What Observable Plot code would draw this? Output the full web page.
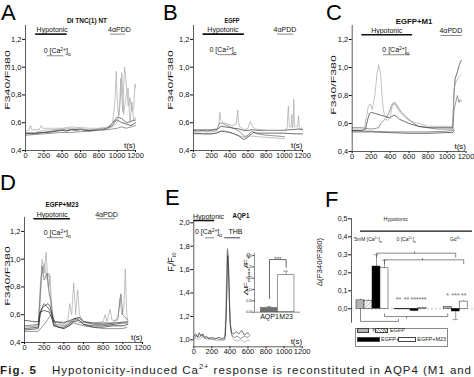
<!DOCTYPE html>
<html><head><meta charset="utf-8">
<script src="https://cdn.jsdelivr.net/npm/d3@7"></script>
<script src="https://cdn.jsdelivr.net/npm/@observablehq/plot@0.6"></script>
<style>
body{margin:0;background:#fff;}
#fig{position:relative;width:474px;height:377px;overflow:hidden;background:#fff;font-family:"Liberation Sans",Arial,sans-serif;color:#111;}
.pan{position:absolute;}
.pan svg{display:block;}
.letter{position:absolute;font-size:22px;line-height:1;color:#000;}
.cap{position:absolute;top:364.5px;font-size:11.5px;line-height:1;white-space:nowrap;color:#222;}
sub,sup{line-height:0;}
</style></head><body><div id="fig">
<div class="letter" style="left:1px;top:2px">A</div>
<div class="letter" style="left:163px;top:2px">B</div>
<div class="letter" style="left:326px;top:2px">C</div>
<div class="letter" style="left:0px;top:172px">D</div>
<div class="letter" style="left:165px;top:187px">E</div>
<div class="letter" style="left:325px;top:189px">F</div>
<div class="cap" id="capA" style="left:0;font-weight:bold">Fig. 5</div>
<div class="cap" id="capB" style="left:52px">Hypotonicity-induced Ca<sup style="font-size:7.5px">2+</sup> response is reconstituted in AQP4 (M1 and</div>
</div>
<script>
// ================= DATA =================
const xTicks=[0,200,400,600,800,1000,1200];
const ratioTicks=[0.4,0.6,0.8,1.0,1.2];
const ftTicks=[1.0,1.2,1.4,1.6,1.8,2.0];
const barTicks=[0,0.1,0.2,0.3,0.4,0.5];
const insetTicks=[0,0.05,0.10,0.15,0.20,0.25];

// Panel A: DI TNC(1) NT
const a1=[[0,.53],[50,.52],[100,.525],[150,.53],[200,.53],[250,.535],[300,.54],[350,.545],[400,.55],[450,.545],[500,.55],[550,.55],[600,.555],[650,.55],[700,.545],[750,.55],[800,.555],[850,.555],[900,.565],[950,.58],[975,.61],[1000,.62],[1050,.6],[1100,.59],[1150,.58],[1200,.6]];
const a2=[[0,.52],[50,.525],[100,.52],[150,.525],[200,.53],[250,.53],[300,.535],[350,.54],[400,.545],[450,.54],[500,.55],[550,.545],[600,.55],[650,.545],[700,.54],[750,.545],[800,.55],[850,.55],[900,.56],[950,.6],[1000,.64],[1050,.63],[1100,.6],[1150,.61],[1200,.62]];
const a3=[[0,.54],[40,.55],[55,.58],[70,.55],[150,.55],[170,.58],[190,.56],[300,.56],[400,.56],[500,.57],[600,.565],[700,.56],[800,.56],[900,.57],[950,.6],[975,.75],[990,.97],[1005,.7],[1020,.65],[1040,.92],[1060,.68],[1080,1.0],[1100,.88],[1120,.72],[1140,.78],[1160,.68],[1180,.7],[1195,.88],[1200,.85]];
const a4=[[0,.53],[100,.53],[200,.545],[300,.55],[400,.555],[500,.56],[600,.555],[700,.55],[800,.55],[900,.56],[950,.57],[1000,.6],[1030,.72],[1050,.96],[1070,.66],[1100,.8],[1120,.85],[1140,.6],[1160,.75],[1180,.62],[1200,.64]];
const a5=[[0,.51],[100,.515],[200,.52],[300,.525],[400,.53],[500,.53],[600,.535],[700,.54],[800,.545],[900,.55],[1000,.56],[1050,.57],[1100,.56],[1150,.57],[1200,.58]];
const stepsA=[{label:"Hypotonic",t0:110,t1:455,at:291},{label:"0 [Ca^{2+}]_{o}",t0:236,t1:418,at:345},{label:"4αPDD",t0:927,t1:1091,at:1025}];

// Panel B: EGFP
const b1=[[0,.545],[50,.54],[100,.545],[150,.54],[200,.545],[250,.55],[280,.56],[300,.575],[350,.57],[400,.565],[450,.56],[500,.555],[550,.545],[600,.545],[650,.55],[700,.545],[800,.545],[900,.545],[1000,.545],[1050,.55],[1100,.55],[1150,.555],[1200,.55]];
const b2=[[0,.525],[100,.52],[200,.52],[250,.525],[300,.54],[350,.535],[400,.53],[450,.52],[500,.505],[550,.48],[580,.485],[620,.51],[660,.53],[700,.525],[800,.525],[900,.525],[1000,.525],[1100,.52],[1200,.52]];
const b3=[[0,.535],[100,.535],[200,.535],[260,.54],[280,.6],[290,.675],[300,.62],[330,.6],[380,.59],[430,.58],[470,.59],[480,.65],[487,.69],[495,.6],[510,.57],[560,.55],[600,.56],[625,.61],[640,.58],[680,.555],[800,.545],[900,.545],[1000,.545],[1030,.56],[1044,.72],[1055,.57],[1075,.57],[1082,.66],[1090,.56],[1098,.6],[1104,.77],[1112,.57],[1145,.57],[1157,.65],[1165,.56],[1200,.56]];
const b4=[[0,.55],[100,.55],[200,.55],[260,.555],[290,.6],[320,.595],[370,.58],[420,.565],[470,.55],[520,.53],[560,.5],[600,.51],[640,.54],[700,.52],[800,.51],[900,.505],[1000,.5]];
const b5=[[0,.52],[100,.52],[200,.52],[280,.53],[330,.545],[400,.53],[480,.51],[560,.495],[620,.505],[700,.5],[800,.495],[900,.49],[1000,.485]];
const stepsB=[{label:"Hypotonic",t0:105,t1:560,at:324},{label:"0 [Ca^{2+}]_{o}",t0:269,t1:469,at:324},{label:"4αPDD",t0:924,t1:1105,at:1007}];

// Panel C: EGFP+M1
const c1=[[0,.56],[50,.56],[100,.56],[130,.57],[150,.65],[170,.72],[190,.74],[210,.7],[240,.8],[260,.95],[280,1.02],[300,.95],[320,.75],[340,.65],[370,.62],[400,.64],[420,.72],[440,.74],[460,.73],[500,.68],[550,.65],[600,.62],[700,.6],[800,.58],[900,.58],[1000,.58],[1060,.58],[1075,.85],[1095,.9],[1120,.93],[1150,.95]];
const c2=[[0,.55],[100,.55],[140,.56],[160,.62],[180,.67],[200,.68],[250,.67],[300,.66],[350,.65],[400,.64],[440,.66],[470,.65],[500,.63],[600,.6],[700,.58],[800,.57],[900,.57],[1000,.57],[1060,.57],[1072,.8],[1085,.92],[1110,.97],[1130,1.02],[1150,1.05]];
const c3=[[0,.57],[100,.57],[200,.56],[280,.57],[300,.6],[330,.62],[360,.64],[390,.68],[410,.72],[430,.745],[450,.75],[480,.72],[520,.68],[580,.64],[650,.6],[700,.58],[800,.57],[900,.56],[1000,.56],[1060,.56],[1075,.7],[1095,.76],[1110,.8],[1125,.75],[1140,.77],[1150,.76]];
const c4=[[0,.54],[200,.54],[400,.535],[600,.53],[800,.53],[1000,.535],[1060,.535],[1075,.55]];
const c5=[[0,.55],[200,.545],[400,.54],[600,.54],[800,.54],[1000,.545],[1060,.55],[1075,.56]];
const stepsC=[{label:"Hypotonic",t0:102,t1:637,at:364},{label:"0 [Ca^{2+}]_{o}",t0:330,t1:614,at:460},{label:"4αPDD",t0:937,t1:1160,at:1040}];

// Panel D: EGFP+M23
const d1=[[0,.52],[100,.52],[140,.53],[160,.8],[180,1.0],[200,.9],[220,1.05],[240,.8],[260,.88],[280,.6],[300,.55],[400,.53],[440,.56],[460,.68],[480,.6],[500,.83],[520,.6],[540,.78],[560,.6],[600,.55],[700,.54],[800,.55],[820,.6],[840,.55],[870,.64],[890,.56],[950,.56],[970,.72],[990,.6],[1010,.65],[1025,.93],[1040,.6],[1050,.56]];
const d2=[[0,.52],[140,.53],[160,.75],[180,.95],[200,.85],[230,.9],[250,.75],[270,.7],[290,.58],[320,.53],[400,.52],[450,.54],[500,.57],[550,.58],[600,.55],[700,.53],[800,.53],[900,.54],[950,.58],[980,.75],[1000,.6],[1050,.56]];
const d3=[[0,.5],[140,.51],[160,.6],[180,.65],[200,.66],[240,.68],[260,.66],[280,.6],[300,.53],[350,.51],[400,.51],[450,.53],[500,.56],[530,.57],[560,.56],[600,.53],[700,.52],[800,.52],[900,.53],[1000,.54],[1050,.54]];
const d4=[[0,.49],[140,.5],[160,.62],[200,.63],[250,.62],[280,.57],[300,.52],[400,.5],[450,.52],[500,.55],[550,.56],[600,.53],[700,.51],[800,.51],[900,.52],[1000,.52],[1050,.53]];
const d5=[[0,.48],[140,.48],[200,.53],[270,.6],[300,.52],[400,.5],[500,.54],[600,.52],[700,.51],[800,.5],[1000,.5],[1040,.51]];
const d6=[[0,.56],[100,.55],[140,.55],[160,.62],[200,.68],[250,.64],[280,.6],[300,.55],[400,.54],[500,.57],[560,.58],[600,.55],[700,.54],[900,.54],[1050,.55]];
const d7=[[0,.51],[150,.52],[170,.85],[200,.97],[230,.85],[250,.9],[270,.65],[300,.55],[500,.55],[800,.53],[1000,.52]];
const stepsD=[{label:"Hypotonic",t0:95,t1:468,at:282},{label:"0 [Ca^{2+}]_{o}",t0:231,t1:400,at:333},{label:"4αPDD",t0:739,t1:925,at:834}];

// Panel E: AQP1
const e1=[[0,1.03],[20,1.05],[40,1.02],[60,1.06],[80,1.03],[100,1.05],[120,1.02],[140,1.03],[160,1.01],[200,1.02],[240,1.01],[280,1.02],[320,1.01],[350,1.03],[365,1.4],[375,1.72],[385,1.6],[395,1.3],[405,1.12],[420,1.06],[440,1.05],[470,1.07],[500,1.05],[530,1.08],[560,1.04],[590,1.06],[610,1.05]];
const e2=[[0,1.01],[30,1.04],[60,1.02],[90,1.05],[120,1.01],[160,1.02],[200,1.0],[250,1.01],[300,1.0],[340,1.0],[360,1.2],[372,1.78],[382,1.7],[392,1.4],[402,1.15],[420,1.04],[450,1.02],[480,1.03],[520,1.01],[560,1.03],[600,1.02],[620,1.04]];
const e3=[[0,1.02],[50,1.0],[100,1.03],[150,1.0],[200,1.01],[250,.99],[300,1.0],[345,1.0],[360,1.5],[370,1.76],[380,1.74],[390,1.5],[400,1.2],[415,1.05],[440,1.0],[480,.99],[520,1.0],[560,.98],[600,1.0],[620,.99]];
const stepsE=[{label:"Hypotonic",t0:0,t1:232,at:163},{label:"0 [Ca^{2+}]_{o}",t0:130,t1:232,at:163},{label:"THB",t0:343,t1:517,at:462}];
// E inset
const insetNames=["AQP1","M23"];
const insetMean=[0.018,0.163];
const insetErr=[0.006,0.018];

// Panel F
const fConditions=["5mM [Ca^{2+}]_{o}","0 [Ca^{2+}]_{o}","Gd^{3+}"];
const fSeriesNames=["NT","EGFP","EGFP+M1","EGFP+M23"];
const fNT=[0.047,-0.003,0.010];
const fEGFP=[0.045,-0.003,null];
const fM1=[0.235,-0.012,-0.015];
const fM23=[0.225,0.005,0.040];
const fErrNT=[0.008,0.004,0.004];
const fErrEGFP=[0.004,0.003,null];
const fErrM1=[0.065,0.005,0.045];
const fErrM23=[0.045,0.004,0.006];
const fStarsNT=[null,"**","*"];
const fStarsEGFP=[null,"**",null];
const fStarsM1=[null,"***","***"];
const fStarsM23=[null,"***","**"];

// ================= RENDER =================
const fig=document.getElementById("fig");
const FONT="Liberation Sans, Arial, sans-serif";
const fmtC=d=>d.toFixed(1).replace(".",",");
const fmtC2=d=>d.toFixed(2).replace(".",",");
const DARK="#333",MID="#6a6a6a",LIGHT="#a8a8a8";

function richify(root){
  root.querySelectorAll("text").forEach(t=>{
    const s=t.textContent;
    if(!/[\^_]\{/.test(s)) return;
    while(t.firstChild) t.removeChild(t.firstChild);
    const re=/([\^_])\{([^}]*)\}|([^\^_]+)/g; let m;
    while((m=re.exec(s))){
      const ts=document.createElementNS("http://www.w3.org/2000/svg","tspan");
      if(m[3]!==undefined){ts.textContent=m[3];}
      else{ts.textContent=m[2];ts.setAttribute("font-size","70%");ts.setAttribute("baseline-shift",m[1]==="^"?"super":"sub");}
      t.appendChild(ts);
    }
  });
}
function place(svg,left,top){
  const d=document.createElement("div");d.className="pan";
  d.style.left=left+"px";d.style.top=top+"px";d.appendChild(svg);fig.appendChild(d);
  richify(svg);
}
function label(html,cx,cy,o={}){
  const el=document.createElement("div");
  el.innerHTML=html;
  el.style.cssText=`position:absolute;left:${cx}px;top:${cy}px;font-size:${o.size||7}px;line-height:1;white-space:nowrap;font-weight:${o.bold?"bold":"normal"};color:${o.color||"#111"}`;
  fig.appendChild(el);
  const s=o.w? o.w/el.offsetWidth:1;
  el.style.transform=`translate(-50%,-50%) ${o.rot?"rotate(-90deg)":""} scaleX(${s})`;
}

const stepStyle={"Hypotonic":{c:"#111",w:1.6},"THB":{c:"#444",w:1}};
function tracePanel(o){
  const marks=[];
  o.traces.forEach((tr,i)=>marks.push(Plot.line(tr,{x:d=>d[0],y:d=>d[1],stroke:o.tones[i],strokeWidth:0.7})));
  marks.push(Plot.ruleX([0],{stroke:"#333",strokeWidth:0.8}));
  marks.push(Plot.ruleY([o.yDomain[0]],{stroke:"#333",strokeWidth:0.8}));
  o.steps.forEach((s,i)=>{
    const lv=o.levels[i], st=stepStyle[s.label]||{c:"#8a8a8a",w:1};
    marks.push(Plot.ruleY([s],{x1:"t0",x2:"t1",y:()=>lv,stroke:st.c,strokeWidth:st.w}));
    marks.push(Plot.text([s],{x:"at",y:()=>lv,text:"label",lineAnchor:"bottom",dy:o.textDy[i],fontSize:7,fill:"#111"}));
  });
  marks.push(Plot.text(["t(s)"],{frameAnchor:"bottom-right",textAnchor:"end",lineAnchor:"bottom",dy:-3,text:d=>d,fontSize:8,fill:"#111"}));
  const svg=Plot.plot({
    width:o.width,height:o.height,marginLeft:o.m[0],marginRight:o.m[1],marginTop:o.m[2],marginBottom:o.m[3],
    style:{fontSize:"7.5px",fontFamily:FONT,background:"transparent",color:"#111",overflow:"visible"},
    x:{domain:[0,1200],ticks:xTicks,tickFormat:d=>String(d),tickSize:2,tickPadding:0,label:null},
    y:{domain:o.yDomain,ticks:o.yTicks,tickFormat:fmtC,tickSize:3,tickPadding:1,label:null},
    marks
  });
  place(svg,o.left,o.top);
}

tracePanel({left:0,top:0,width:155,height:175,m:[25,20,25,25],yDomain:[0.4,1.3],yTicks:ratioTicks,
  traces:[a5,a1,a2,a4,a3],tones:[MID,DARK,DARK,LIGHT,LIGHT],steps:stepsA,levels:[1.238,1.082,1.238],textDy:[-2,-3,-2]});
tracePanel({left:155,top:0,width:155,height:175,m:[38,8,25,25],yDomain:[0.4,1.3],yTicks:ratioTicks,
  traces:[b5,b4,b1,b2,b3],tones:[LIGHT,MID,DARK,DARK,LIGHT],steps:stepsB,levels:[1.238,1.09,1.238],textDy:[-2,-3,-2]});
tracePanel({left:310,top:0,width:164,height:175,m:[41.7,8.5,25,24],yDomain:[0.4,1.3],yTicks:ratioTicks,
  traces:[c4,c5,c3,c2,c1],tones:[DARK,MID,MID,DARK,LIGHT],steps:stepsC,levels:[1.234,1.091,1.229],textDy:[-2,-3,-2]});
tracePanel({left:0,top:175,width:155,height:190,m:[24,13,42,23],yDomain:[0.4,1.3],yTicks:ratioTicks,
  traces:[d7,d1,d2,d5,d6,d3,d4],tones:[LIGHT,LIGHT,MID,MID,DARK,DARK,DARK],steps:stepsD,levels:[1.291,1.155,1.291],textDy:[-2,-3,-2]});
tracePanel({left:155,top:175,width:155,height:190,m:[38.3,8.3,45,18.7],yDomain:[0.94,2.02],yTicks:ftTicks,
  traces:[e3,e2,e1],tones:[LIGHT,MID,DARK],steps:stepsE,levels:[2.02,1.872,1.872],textDy:[-2,-4,-4]});

// ---- E inset ----
(function(){
  const bw=0.362, x0=0.145;
  const bars=insetNames.map((n,i)=>({n,x1:x0+bw*i,x2:x0+bw*(i+1),xc:x0+bw*(i+0.5),v:insetMean[i],e:insetErr[i]}));
  const fills=["#707070","#fff"];
  const c0=bars[0].xc,c1=bars[1].xc;
  const marks=[
    ...bars.map((b,i)=>Plot.rectY([b],{x1:"x1",x2:"x2",y1:0,y2:"v",fill:fills[i],stroke:"#555",strokeWidth:0.6})),
    Plot.ruleX(bars,{x:"xc",y1:"v",y2:d=>d.v+d.e,stroke:"#555",strokeWidth:0.6}),
    Plot.ruleY(bars,{y:d=>d.v+d.e,x1:d=>d.xc-0.05,x2:d=>d.xc+0.05,stroke:"#555",strokeWidth:0.6}),
    Plot.line([[c0,0.06],[c0,0.232],[c1,0.232],[c1,0.198]],{x:d=>d[0],y:d=>d[1],stroke:"#444",strokeWidth:0.8}),
    Plot.text(["***"],{x:()=>(c0+c1)/2,y:()=>0.232,text:d=>d,lineAnchor:"bottom",dy:1,fontSize:6,fill:"#444"}),
    Plot.text(bars,{x:"xc",y:()=>0,text:"n",lineAnchor:"top",dy:2,fontSize:7,fill:"#111"}),
    Plot.ruleX([0],{stroke:"#444",strokeWidth:0.6}),
    Plot.ruleY([0],{stroke:"#444",strokeWidth:0.6})
  ];
  const svg=Plot.plot({width:72,height:82,marginLeft:22,marginRight:4,marginTop:5.7,marginBottom:17.3,
    style:{fontSize:"3.4px",fontFamily:FONT,background:"transparent",color:"#333",overflow:"visible"},
    x:{domain:[0,1],axis:null},
    y:{domain:[0,0.26],ticks:insetTicks,tickFormat:fmtC2,tickSize:1.5,tickPadding:0.5,label:null},
    marks});
  place(svg,232,247);
})();

// ---- F bars ----
(function(){
  const fVals=[fNT,fEGFP,fM1,fM23], fErrs=[fErrNT,fErrEGFP,fErrM1,fErrM23], fStars=[fStarsNT,fStarsEGFP,fStarsM1,fStarsM23];
  const fFills=["#b4b4b4","url(#hatchF)","#000","#fff"];
  const groupStart=[0,4.75,10.9];
  const bars=[];
  fConditions.forEach((c,g)=>{let k=0;fVals.forEach((vals,s)=>{if(vals[g]==null)return;const x1=groupStart[g]+k;
    bars.push({g,s,x1,x2:x1+1,xc:x1+0.5,v:vals[g],e:fErrs[s][g],star:fStars[s][g]});k++;});});
  const cen=(s,g)=>bars.find(b=>b.s===s&&b.g===g).xc;
  const sgn=v=>v<0?-1:1;
  const starLevel=[null,0.05,0.074];
  const groups=fConditions.map((c,g)=>({c,xc:groupStart[g]+1.75}));
  const upper1=[[cen(2,0),0.287],[cen(2,0),0.309],[cen(2,2),0.309],[cen(2,2),0.287]];
  const tick1=[[cen(2,1),0.309],[cen(2,1),0.317]];
  const upper2=[[cen(3,0),0.25],[cen(3,0),0.272],[cen(3,2),0.272],[cen(3,2),0.25]];
  const tick2=[[cen(3,1),0.272],[cen(3,1),0.28]];
  const lower1=[[cen(0,0),0],[cen(0,0),-0.07],[cen(0,1),-0.07],[cen(0,1),-0.058]];
  const lower2=[[cen(3,0),-0.028],[cen(3,0),-0.043],[cen(0,2),-0.043],[cen(0,2),-0.028]];
  const tick3=[[cen(1,1),-0.043],[cen(1,1),-0.052]];
  const br=pts=>Plot.line(pts,{x:d=>d[0],y:d=>d[1],stroke:"#555",strokeWidth:0.7});
  const marks=[
    Plot.ruleY([0],{stroke:"#999",strokeWidth:0.6,strokeDasharray:"2,2"}),
    ...fVals.map((v,s)=>Plot.rectY(bars.filter(b=>b.s===s),{x1:"x1",x2:"x2",y1:0,y2:"v",fill:fFills[s],stroke:"#222",strokeWidth:0.5})),
    Plot.ruleX(bars,{x:"xc",y1:"v",y2:d=>d.v+sgn(d.v)*d.e,stroke:"#555",strokeWidth:0.6}),
    Plot.ruleY(bars.filter(b=>b.e>0.01),{y:d=>d.v+sgn(d.v)*d.e,x1:d=>d.xc-0.3,x2:d=>d.xc+0.3,stroke:"#555",strokeWidth:0.6}),
    Plot.text(bars.filter(b=>b.star),{x:"xc",y:d=>starLevel[d.g],text:"star",fontSize:7,fill:"#666"}),
    br(upper1),br(tick1),br(upper2),br(tick2),br(lower1),br(lower2),br(tick3),
    Plot.ruleY([0.431],{x1:0.5,x2:14.5,stroke:"#111",strokeWidth:1.3}),
    Plot.text(["Hypotonic"],{x:()=>4.9,y:()=>0.495,text:d=>d,fontSize:5.5,fill:"#222"}),
    Plot.text(groups,{x:d=>d.xc-0.3,y:()=>0.385,text:"c",fontSize:5,fill:"#222"}),
    Plot.ruleX([-0.625],{stroke:"#333",strokeWidth:0.8})
  ];
  const svg=Plot.plot({width:164,height:190,marginLeft:41,marginRight:0,marginTop:43.3,marginBottom:42.3,
    style:{fontSize:"7px",fontFamily:FONT,background:"transparent",color:"#111",overflow:"visible"},
    x:{domain:[-0.625,14.75],axis:null},
    y:{domain:[-0.08,0.5],ticks:barTicks,tickFormat:fmtC,tickSize:3,tickPadding:1,label:null},
    marks});
  const NS="http://www.w3.org/2000/svg";
  const defs=document.createElementNS(NS,"defs");
  const pat=document.createElementNS(NS,"pattern");
  pat.setAttribute("id","hatchF");pat.setAttribute("patternUnits","userSpaceOnUse");
  pat.setAttribute("width","2.5");pat.setAttribute("height","2.5");pat.setAttribute("patternTransform","rotate(45)");
  const r=document.createElementNS(NS,"rect");r.setAttribute("width","2.5");r.setAttribute("height","2.5");r.setAttribute("fill","#fff");
  const l=document.createElementNS(NS,"line");l.setAttribute("x1","0");l.setAttribute("y1","0");l.setAttribute("x2","0");l.setAttribute("y2","2.5");
  l.setAttribute("stroke","#888");l.setAttribute("stroke-width","1");
  pat.appendChild(r);pat.appendChild(l);defs.appendChild(pat);svg.insertBefore(defs,svg.firstChild);
  place(svg,310,175);

  // legend
  const lg=document.createElement("div");
  lg.style.cssText="position:absolute;left:355px;top:327.5px;width:91px;height:17px;border:0.8px solid #888;";
  fig.appendChild(lg);
  const items=[{sw:[356.7,328.2,12.6,5.3],tx:372.5,ty:330.8},{sw:[375,328.2,13.3,5.3],tx:390,ty:330.8},
               {sw:[356.7,337,23.3,5.3],tx:381,ty:339.6},{sw:[398.3,337,17.7,5.3],tx:417.3,ty:339.6}];
  const swCss=["background:#b4b4b4;","background:repeating-linear-gradient(45deg,#fff 0 1px,#999 1px 2px);","background:#000;","background:#fff;"];
  fSeriesNames.forEach((n,i)=>{
    const it=items[i];
    const s=document.createElement("div");
    s.style.cssText=`position:absolute;left:${it.sw[0]}px;top:${it.sw[1]}px;width:${it.sw[2]}px;height:${it.sw[3]}px;box-sizing:border-box;border:0.6px solid #444;${swCss[i]}`;
    fig.appendChild(s);
    const t=document.createElement("div");
    t.textContent=n;
    t.style.cssText=`position:absolute;left:${it.tx}px;top:${it.ty}px;font-size:5.5px;line-height:1;transform:translateY(-50%);white-space:nowrap;color:#222`;
    fig.appendChild(t);
  });
})();

// ---- titles and axis labels ----
label("DI TNC(1) NT",86.7,19.7,{size:7,bold:true,w:40});
label("EGFP",231.5,19.7,{size:7,bold:true,w:15});
label("EGFP+M1",414.3,20.7,{size:7,bold:true,w:36.7});
label("EGFP+M23",61.7,203.8,{size:7,bold:true,w:33.3});
label("AQP1",240.7,215,{size:7,bold:true,w:16.7});
label("F340/F380",7.8,80,{size:8,rot:true,w:60});
label("F340/F380",171,80,{size:8,rot:true,w:60});
label("F340/F380",333.7,85,{size:8,rot:true,w:60});
label("F340/F380",7.8,276,{size:8,rot:true,w:60});
label("F<sub style='font-size:6px'>t</sub>/F<sub style='font-size:6px'>t0</sub>",171,262,{size:9,rot:true,w:19});
label("ΔF<sub style='font-size:3.5px'>max</sub>/F<sub style='font-size:3.5px'>t0</sub>",245.5,274,{size:5,rot:true,w:42});
label("Δ(F340/F380)",319.5,261.7,{size:7.5,rot:true,w:48});

// ---- caption spacing: fit the visible caption line into the figure width ----
(function(){
  const capB=document.getElementById("capB"), capA=document.getElementById("capA");
  const n=capB.textContent.length, w=capB.getBoundingClientRect().width;
  capB.style.letterSpacing=((420-w)/n)+"px";
  const na=capA.textContent.length, wa=capA.getBoundingClientRect().width;
  capA.style.letterSpacing=((37-wa)/na)+"px";
})();
</script></body></html>
